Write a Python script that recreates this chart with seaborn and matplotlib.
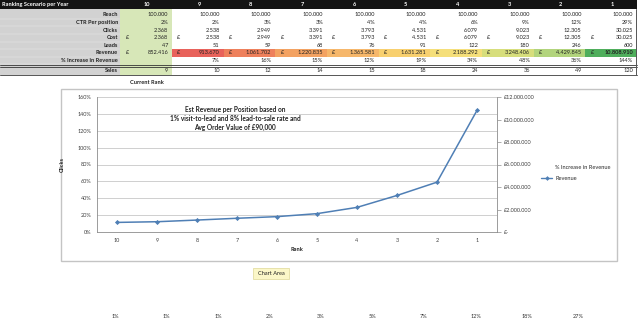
import numpy as np
import pandas as pd
import matplotlib
matplotlib.use("Agg")
import matplotlib.pyplot as plt
from matplotlib.patches import Rectangle
from matplotlib.lines import Line2D
from matplotlib.ticker import FuncFormatter, MultipleLocator
import seaborn as sns

# ---- data -----------------------------------------------------------------
ranks = ["10", "9", "8", "7", "6", "5", "4", "3", "2", "1"]
reach = [100000] * 10
ctr = [2, 2, 3, 3, 4, 4, 6, 9, 12, 29]
clicks = [2368, 2538, 2949, 3391, 3793, 4531, 6079, 9023, 12305, 30025]
cost = [2368, 2538, 2949, 3391, 3793, 4531, 6079, 9023, 12305, 30025]
leads = [47, 51, 59, 68, 76, 91, 122, 180, 246, 600]
revenue = [852416, 913670, 1061702, 1220835, 1365581, 1631281, 2188292,
           3248406, 4429845, 10808910]
pct_increase = [None, 7, 16, 15, 12, 19, 34, 48, 36, 144]
sales = [9, 10, 12, 14, 15, 18, 24, 36, 49, 120]
bottom_pct = [1, 1, 1, 2, 3, 5, 7, 12, 18, 27]
revenue_colors = ["#d7e7b8", "#e8625b", "#ee805c", "#f3a262", "#f6b76b",
                  "#f8d06f", "#f5df7a", "#d7de7c", "#b2d47c", "#4fae5c"]

sns.set_style("white")
plt.rcParams["font.family"] = ["Lato", "DejaVu Sans"]


def thousands(v):
    return f"{v:,.0f}".replace(",", ".")


fig = plt.figure(figsize=(6.38, 3.24), dpi=100)
bg = fig.add_axes([0, 0, 1, 1])
bg.set_xlim(0, 638)
bg.set_ylim(324, 0)
bg.axis("off")

# ---- spreadsheet table ----------------------------------------------------
fs = 4.1
col_w = 51.67
col_left = 120.3 + col_w * np.arange(10)
row_names = ["Reach", "CTR Per position", "Clicks", "Cost", "Leads",
             "Revenue", "% Increase in Revenue", "Sales"]
row_y = [15, 22.6, 30.2, 37.8, 45.4, 53, 60.6, 71]
rh = 7.6

# header bar
bg.add_patch(Rectangle((0, 0), 637, 9, color="#141414", lw=0))
bg.text(2, 4.7, "Ranking Scenario per Year", color="white", fontsize=fs,
        fontweight="bold", va="center", ha="left")
for i, r in enumerate(ranks):
    bg.text(col_left[i] + 27, 4.7, r, color="white", fontsize=fs,
            fontweight="bold", va="center", ha="center")

# label column and highlighted current-rank column
bg.add_patch(Rectangle((0, 9), col_left[0], 75 - 9, color="#d2d2d2", lw=0))
bg.add_patch(Rectangle((col_left[0], 9), col_w, 75 - 9, color="#d7e7b8", lw=0))

# coloured revenue cells
for i in range(10):
    bg.add_patch(Rectangle((col_left[i], row_y[5] - rh / 2), col_w, rh,
                           color=revenue_colors[i], lw=0))

for y in row_y[:7]:
    bg.plot([0, col_left[0]], [y + rh / 2, y + rh / 2], color="#ececec", lw=0.3)

for name, y in zip(row_names, row_y):
    bg.text(118, y, name, fontsize=fs, fontweight="bold", ha="right",
            va="center", color="#222222")

rows = [
    [thousands(v) for v in reach],
    [f"{v}%" for v in ctr],
    [thousands(v) for v in clicks],
    [thousands(v) for v in cost],
    [thousands(v) for v in leads],
    [thousands(v) for v in revenue],
    ["" if v is None else f"{v}%" for v in pct_increase],
    [thousands(v) for v in sales],
]
for k, (vals, y) in enumerate(zip(rows, row_y)):
    for i, s in enumerate(vals):
        bold = (k == 5 and i == 9)
        bg.text(col_left[i] + 47.7, y, s, fontsize=fs, ha="right", va="center",
                color="#222222", fontweight="bold" if bold else "normal")
        if row_names[k] in ("Cost", "Revenue"):
            bg.text(col_left[i] + 7, y, "£", fontsize=fs, ha="center",
                    va="center", color="#222222")

# table rules
bg.plot([0, 637], [65, 65], color="#333333", lw=0.6)
bg.plot([0, 637], [67.2, 67.2], color="#333333", lw=0.6)
bg.plot([0, 637], [75, 75], color="#555555", lw=0.7)
bg.plot([636, 636], [9, 75], color="#555555", lw=0.7)
bg.text(col_left[0] + 27, 82, "Current Rank", fontsize=fs, fontweight="bold",
        ha="center", va="center", color="#222222")

# ---- chart area -----------------------------------------------------------
bg.add_patch(Rectangle((61, 89), 556, 172, facecolor="white",
                       edgecolor="#c4c4c4", lw=1.0))

ax = fig.add_axes([97 / 638, 1 - 232 / 324, 400 / 638, 135 / 324])
ax2 = ax.twinx()

df = pd.DataFrame({"pos": np.arange(len(ranks)), "Rank": ranks,
                   "Revenue": revenue})
sns.lineplot(data=df, x="pos", y="Revenue", ax=ax2, color="#4f7fb5",
             lw=1.1, marker="D", markersize=2.6, markeredgewidth=0,
             label="Revenue", legend=False)

ax.set_xlim(-0.5, 9.5)
ax.set_ylim(0, 1.6)
ax2.set_ylim(0, 12_000_000)
ax.yaxis.set_major_locator(MultipleLocator(0.2))
ax.yaxis.set_major_formatter(FuncFormatter(lambda v, p: f"{v * 100:.0f}%"))
ax2.yaxis.set_major_locator(MultipleLocator(2_000_000))
ax2.yaxis.set_major_formatter(
    FuncFormatter(lambda v, p: "£-" if v == 0 else "£" + thousands(v)))
ax.set_xticks(df["pos"])
ax.set_xticklabels(ranks)
ax2.set_xticks(df["pos"])

ax.grid(axis="y", color="#c8c8c8", lw=0.6)
ax.set_axisbelow(True)
for a in (ax, ax2):
    for s in a.spines.values():
        s.set_visible(False)
    a.set_facecolor("none")
ax.spines["left"].set_visible(True)
ax.spines["bottom"].set_visible(True)
ax2.spines["right"].set_visible(True)
for s in (ax.spines["left"], ax.spines["bottom"], ax2.spines["right"]):
    s.set_color("#8c8c8c")
    s.set_linewidth(0.6)

ax.tick_params(axis="both", labelsize=4.0, length=0, pad=4, colors="#404040")
ax2.tick_params(axis="y", labelsize=4.0, length=3, width=0.5, pad=2,
                colors="#404040", direction="out")
ax2.tick_params(axis="y", color="#8c8c8c")
ax2.set_ylabel("")
ax.set_xlabel("Rank", fontsize=4.1, fontweight="bold", labelpad=3,
              color="#222222")
ax2.set_xlabel("")
ax.set_ylabel("Clicks", fontsize=4.1, fontweight="bold", labelpad=9,
              color="#222222")

bg.text(235, 118.5, "Est Revenue per Position based on\n"
        "1% visit-to-lead and 8% lead-to-sale rate and\n"
        "Avg Order Value of £90,000", fontsize=4.7, fontweight="bold",
        ha="center", va="center", linespacing=1.35, color="#222222",
        zorder=5)

handles = [Line2D([], [], linestyle="none"),
           Line2D([], [], color="#4f7fb5", lw=1.0, marker="D", markersize=2.4,
                  markeredgewidth=0)]
bg.legend(handles, ["% Increase in Revenue", "Revenue"], loc="upper left",
          bbox_to_anchor=(541, 165), bbox_transform=bg.transData,
          frameon=False, fontsize=4.1, handlelength=2.0, handletextpad=0.5,
          borderpad=0, borderaxespad=0, labelspacing=1.1)

# "Chart Area" hover tip
bg.add_patch(Rectangle((253, 268), 36, 11, facecolor="#fbf7c8",
                       edgecolor="#e3dea3", lw=0.6))
bg.text(271, 273.5, "Chart Area", fontsize=4.1, ha="center", va="center",
        color="#222222")

# row of percentages beneath the chart
for i, v in enumerate(bottom_pct):
    bg.text(115 + 51.5 * i, 317, f"{v}%", fontsize=4.0, ha="center",
            va="center", color="#333333")

fig.savefig("out.png", dpi=100)
